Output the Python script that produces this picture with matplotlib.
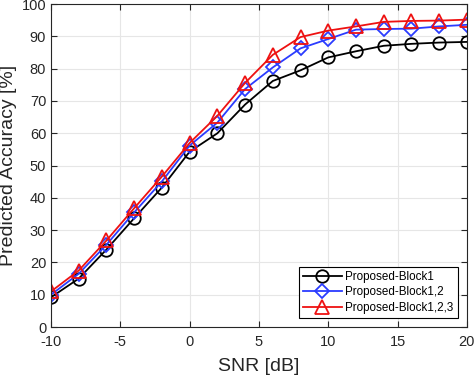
import matplotlib.pyplot as plt
import numpy as np

snr = [-10, -8, -6, -4, -2, 0, 2, 4, 6, 8, 10, 12, 14, 16, 18, 20]
block1 = [9.2, 15.0, 24.0, 33.7, 43.2, 54.3, 60.0, 68.9, 76.2, 79.5, 83.5, 85.4, 87.1, 87.7, 88.1, 88.3]
block12 = [10.0, 16.5, 25.5, 35.5, 45.1, 56.2, 63.3, 73.7, 80.4, 86.3, 89.2, 92.1, 92.3, 92.4, 93.1, 93.6]
block123 = [11.0, 17.5, 26.8, 36.8, 46.6, 57.0, 65.4, 75.6, 84.3, 89.8, 91.8, 93.1, 94.5, 94.8, 94.9, 95.2]

plt.rcParams['font.family'] = ['Liberation Sans', 'DejaVu Sans']
plt.rcParams['axes.unicode_minus'] = False

fig = plt.figure(figsize=(4.74, 3.76), dpi=100)
ax = fig.add_axes([0.1076, 0.1303, 0.8774, 0.8587])

ms = 9
ax.plot(snr, block1, color='black', marker='o', mfc='none', ms=ms, lw=1.3, mew=1.3, label='Proposed-Block1')
ax.plot(snr, block12, color='#2b3cff', marker='D', mfc='none', ms=ms - 1.5, lw=1.3, mew=1.3, label='Proposed-Block1,2')
ax.plot(snr, block123, color='#ee1111', marker='^', mfc='none', ms=ms + 0.5, lw=1.3, mew=1.3, label='Proposed-Block1,2,3')

ax.set_xlim(-10, 20)
ax.set_ylim(0, 100)
ax.set_xticks(np.arange(-10, 21, 5))
ax.set_yticks(np.arange(0, 101, 10))
ax.grid(True, color='#e6e6e6', lw=0.8)
ax.set_axisbelow(True)
ax.tick_params(direction='in', top=True, right=True, labelsize=10.5, length=4,
               color='#262626', labelcolor='#262626')
ax.tick_params(axis='y', pad=3.5)
ax.tick_params(axis='x', pad=6)
for s in ax.spines.values():
    s.set_color('#262626')
    s.set_linewidth(0.8)

ax.set_xlabel('SNR [dB]', fontsize=14, labelpad=6, color='#262626')
ax.set_ylabel('Predicted Accuracy [%]', fontsize=14, labelpad=3, color='#262626')

leg = ax.legend(loc='lower right', fontsize=8.4, fancybox=False, edgecolor='black',
                framealpha=1, borderaxespad=0.8, handlelength=3.3, borderpad=0.35,
                labelspacing=0.3, handletextpad=0.3)
leg.get_frame().set_linewidth(0.8)

fig.savefig('out.png', dpi=100)
